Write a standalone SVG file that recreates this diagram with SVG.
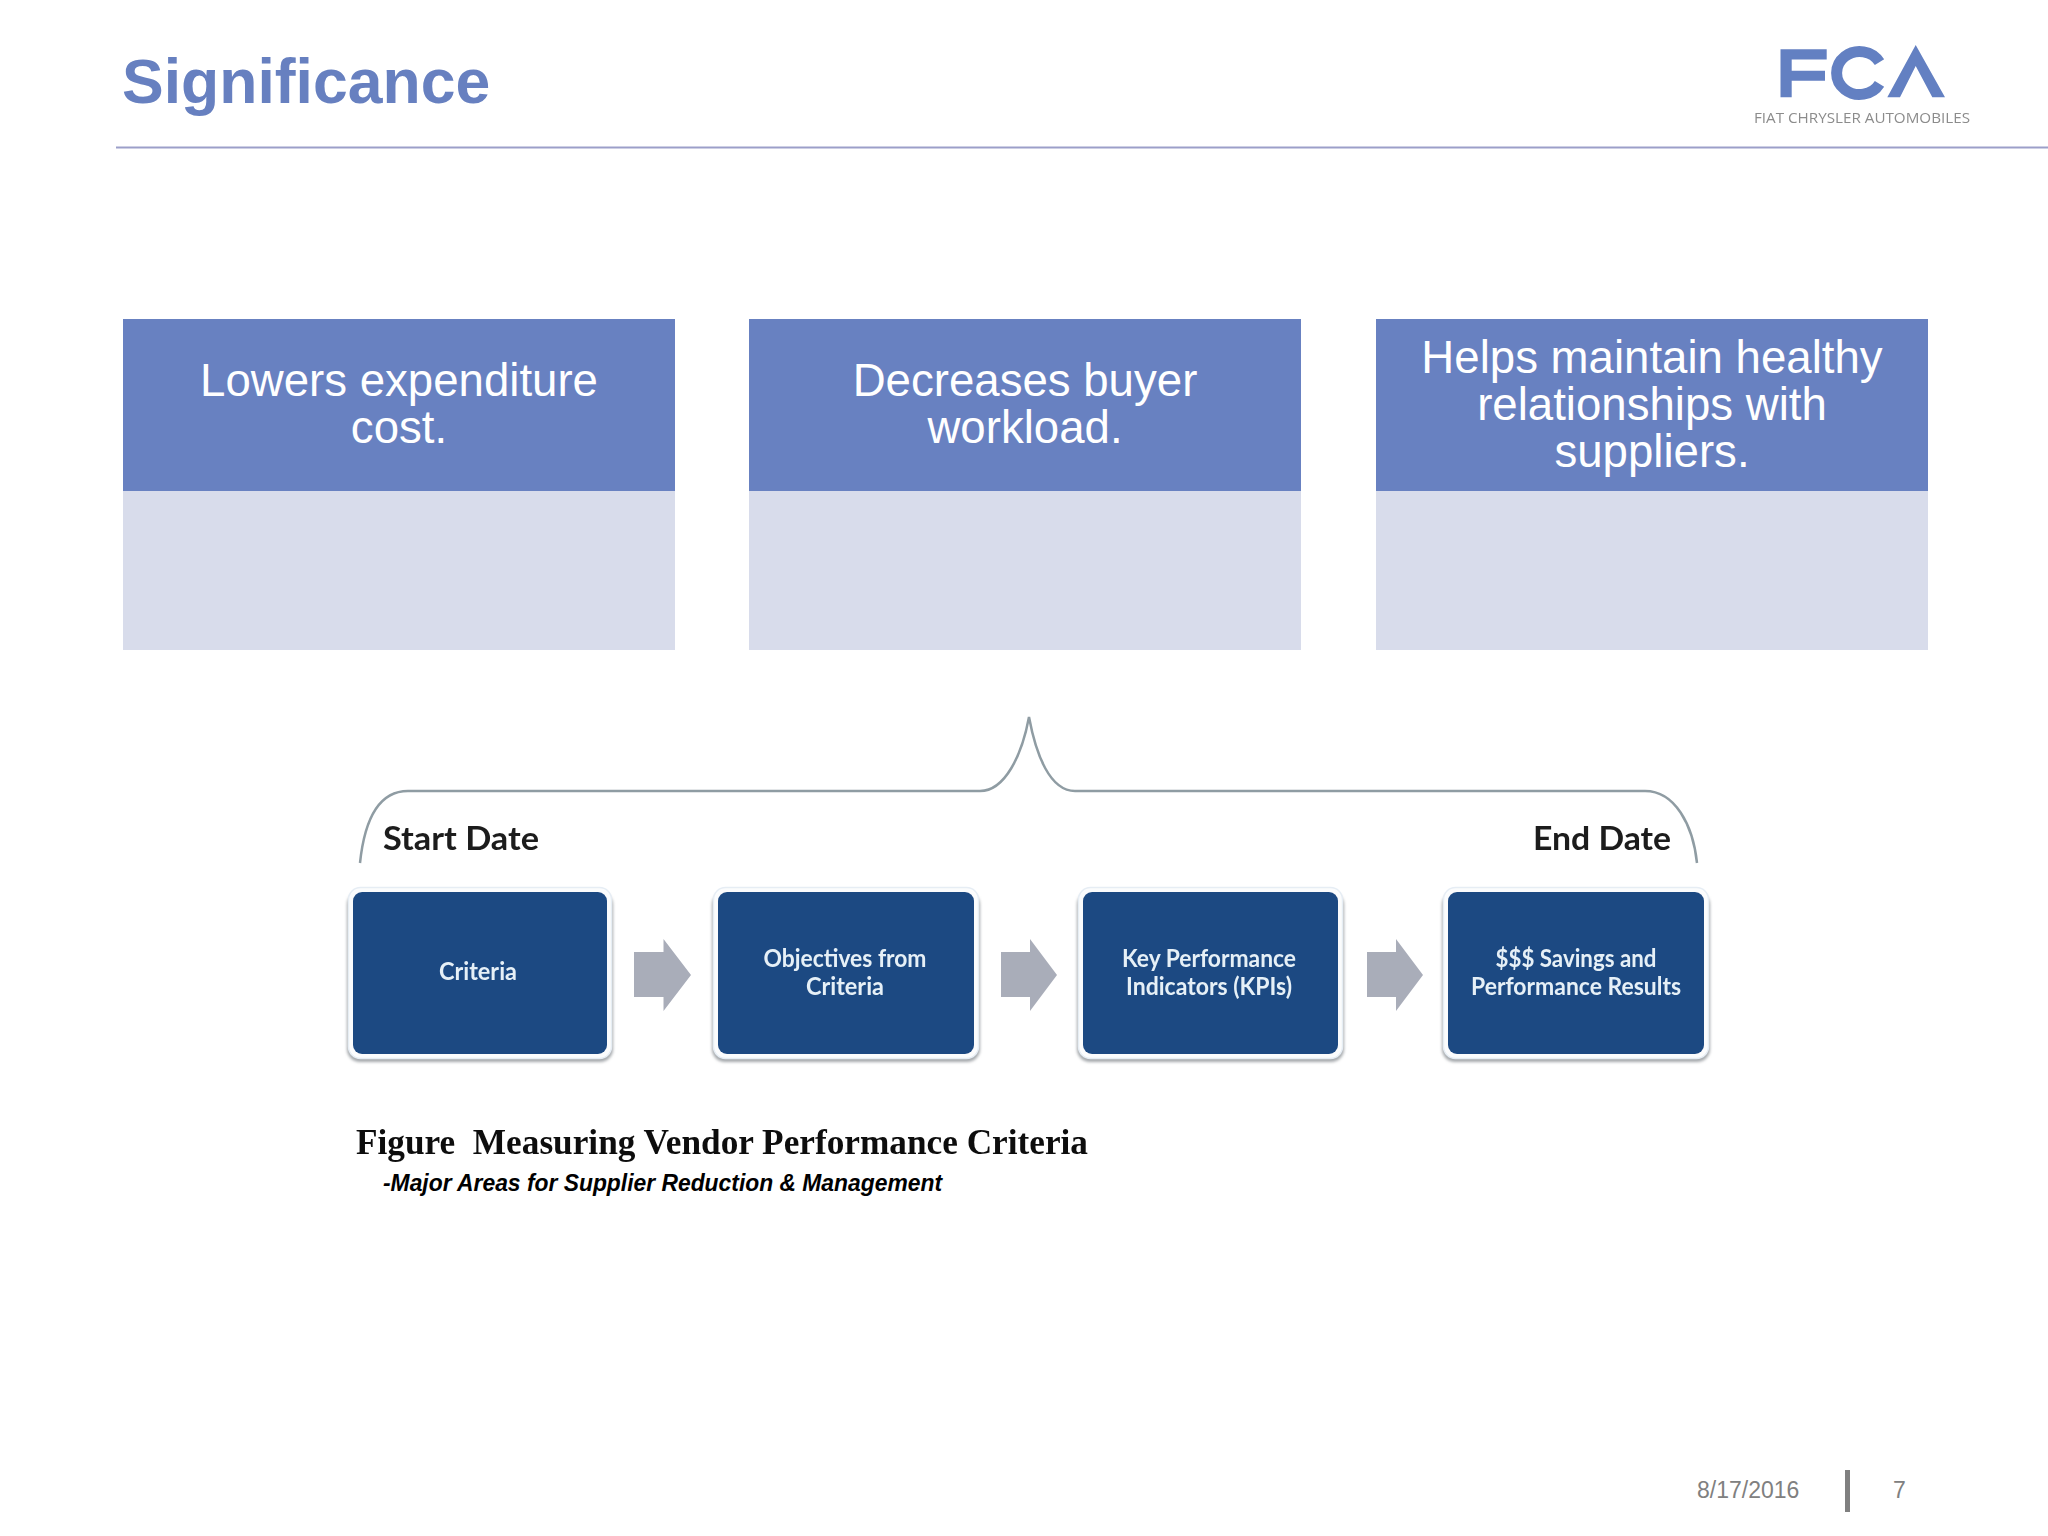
<svg xmlns="http://www.w3.org/2000/svg" width="2048" height="1536" viewBox="0 0 2048 1536">
<defs><style>
.hd{fill:#6881c1}
.lo{fill:#d8dceb}
.pt{font:45.6px "Liberation Sans",Arial,sans-serif;fill:#fff;text-anchor:middle}
.bx{fill:#1f4a82}
.bd{fill:#fbfcfd;stroke:#e6edf4;stroke-width:1.5}
.sh{fill:#a4a8ac}
.bt{font:bold 24px Lato,"Liberation Sans",sans-serif;fill:#e6f0f7;text-anchor:middle}
.dt{font:bold 33px Lato,"Liberation Sans",sans-serif;fill:#1c1c1c}
.ar{fill:#a9adb9}
.ft{font:23px "Liberation Sans",Arial,sans-serif;fill:#808080}
</style>
<filter id="soft" x="-5%" y="-5%" width="110%" height="110%"><feGaussianBlur stdDeviation="0.7"/></filter>
<filter id="shade" x="-5%" y="-5%" width="110%" height="110%"><feGaussianBlur stdDeviation="1.8"/></filter>
</defs>
<rect width="2048" height="1536" fill="#fff"/>
<g id="header">
<text x="122" y="103" font-family="Liberation Sans, Arial, sans-serif" font-weight="bold" font-size="62.5" fill="#6780c0">Significance</text>
<line x1="116" y1="147.5" x2="2048" y2="147.5" stroke="#9c9fc9" stroke-width="2"/>
</g>
<g id="logo" fill="#6480c2" filter="url(#soft)">
<path d="M1780.5 49.3H1826.7V59.5H1791.7V70.7H1825V80.7H1791.7V97.3H1780.5Z"/>
<path d="M1879.5 62.2A23 21.5 0 1 0 1879.5 83.8" fill="none" stroke="#6480c2" stroke-width="11"/>
<path d="M1915.7 45L1945 97.3H1932.3L1915.7 66L1900 97.3H1887.3Z"/>
<text x="1754" y="123" font-family="Open Sans, Liberation Sans, sans-serif" font-size="14" fill="#8c8c8c" textLength="216" lengthAdjust="spacingAndGlyphs">FIAT CHRYSLER AUTOMOBILES</text>
</g>
<g id="panel1">
<rect class="lo" x="123" y="491" width="552" height="159"/>
<rect class="hd" x="123" y="319" width="552" height="172"/>
<text class="pt" x="399" y="396">Lowers expenditure</text>
<text class="pt" x="399" y="443">cost.</text>
</g>
<g id="panel2">
<rect class="lo" x="749" y="491" width="552" height="159"/>
<rect class="hd" x="749" y="319" width="552" height="172"/>
<text class="pt" x="1025" y="396">Decreases buyer</text>
<text class="pt" x="1025" y="443">workload.</text>
</g>
<g id="panel3">
<rect class="lo" x="1376" y="491" width="552" height="159"/>
<rect class="hd" x="1376" y="319" width="552" height="172"/>
<text class="pt" x="1652" y="373">Helps maintain healthy</text>
<text class="pt" x="1652" y="420">relationships with</text>
<text class="pt" x="1652" y="467">suppliers.</text>
</g>
<g id="connectors" filter="url(#soft)">
<path d="M360 863C364 825 376 791 408 791H980C1005 791 1022 755 1029 717C1036 755 1050 791 1075 791H1645C1675 791 1693 825 1697 863" fill="none" stroke="#8f9ca3" stroke-width="2.5"/>
<path class="ar" d="M634 952H663.5V939L691 975L663.5 1011V997H634Z"/>
<path class="ar" d="M1001 952H1030V939L1057 975L1030 1011V997H1001Z"/>
<path class="ar" d="M1367 952H1396V939L1423 975L1396 1011V997H1367Z"/>
</g>
<g id="start-date" filter="url(#soft)"><text class="dt" x="383" y="850" textLength="156" lengthAdjust="spacingAndGlyphs">Start Date</text></g>
<g id="end-date" filter="url(#soft)"><text class="dt" x="1533" y="850" textLength="138" lengthAdjust="spacingAndGlyphs">End Date</text></g>
<g id="node-criteria">
<rect class="sh" x="347" y="892" width="266" height="170" rx="13" filter="url(#shade)"/>
<rect class="bd" x="348.5" y="887.5" width="263" height="171" rx="12"/>
<rect class="bx" x="353" y="892" width="254" height="162" rx="9" filter="url(#soft)"/>
<text class="bt" x="478" y="980" textLength="78" lengthAdjust="spacingAndGlyphs" filter="url(#soft)">Criteria</text>
</g>
<g id="node-objectives">
<rect class="sh" x="712" y="892" width="268" height="170" rx="13" filter="url(#shade)"/>
<rect class="bd" x="713.5" y="887.5" width="265" height="171" rx="12"/>
<rect class="bx" x="718" y="892" width="256" height="162" rx="9" filter="url(#soft)"/>
<text class="bt" x="845" y="967" textLength="163" lengthAdjust="spacingAndGlyphs" filter="url(#soft)">Objectives from</text>
<text class="bt" x="845" y="995" textLength="78" lengthAdjust="spacingAndGlyphs" filter="url(#soft)">Criteria</text>
</g>
<g id="node-kpi">
<rect class="sh" x="1077" y="892" width="267" height="170" rx="13" filter="url(#shade)"/>
<rect class="bd" x="1078.5" y="887.5" width="264" height="171" rx="12"/>
<rect class="bx" x="1083" y="892" width="255" height="162" rx="9" filter="url(#soft)"/>
<text class="bt" x="1209" y="967" textLength="174" lengthAdjust="spacingAndGlyphs" filter="url(#soft)">Key Performance</text>
<text class="bt" x="1209" y="995" textLength="166" lengthAdjust="spacingAndGlyphs" filter="url(#soft)">Indicators (KPIs)</text>
</g>
<g id="node-savings">
<rect class="sh" x="1442" y="892" width="268" height="170" rx="13" filter="url(#shade)"/>
<rect class="bd" x="1443.5" y="887.5" width="265" height="171" rx="12"/>
<rect class="bx" x="1448" y="892" width="256" height="162" rx="9" filter="url(#soft)"/>
<text class="bt" x="1576" y="967" textLength="161" lengthAdjust="spacingAndGlyphs" filter="url(#soft)">$$$ Savings and</text>
<text class="bt" x="1576" y="995" textLength="210" lengthAdjust="spacingAndGlyphs" filter="url(#soft)">Performance Results</text>
</g>
<g id="caption">
<text x="356" y="1154" font-family="Liberation Serif, Times New Roman, serif" font-weight="bold" font-size="36" fill="#111" style="white-space:pre" textLength="732" lengthAdjust="spacingAndGlyphs" filter="url(#soft)">Figure  Measuring Vendor Performance Criteria</text>
<text x="383" y="1191" font-family="Liberation Sans, Arial, sans-serif" font-weight="bold" font-style="italic" font-size="23" fill="#000" textLength="559" lengthAdjust="spacingAndGlyphs">-Major Areas for Supplier Reduction &amp; Management</text>
</g>
<g id="footer">
<text class="ft" x="1697" y="1498">8/17/2016</text>
<rect x="1845" y="1470" width="5" height="42" fill="#808080"/>
<text class="ft" x="1893" y="1498">7</text>
</g>
</svg>
